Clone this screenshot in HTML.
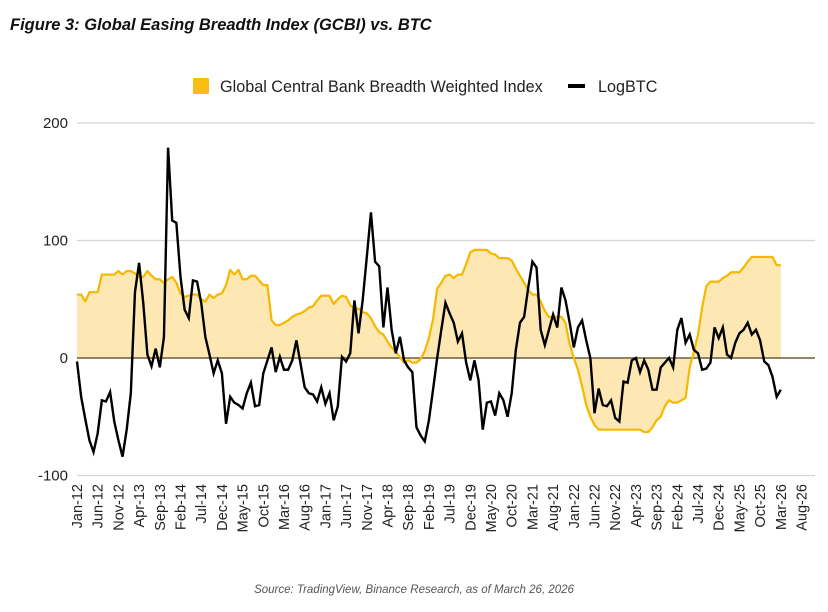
<!DOCTYPE html>
<html><head><meta charset="utf-8"><style>
body{margin:0;background:#fff;width:828px;height:607px;overflow:hidden;font-family:"Liberation Sans",sans-serif}
</style></head><body>
<svg width="828" height="607" xmlns="http://www.w3.org/2000/svg">
<text x="10" y="30" font-size="16.5" font-weight="bold" font-style="italic" fill="#111">Figure 3: Global Easing Breadth Index (GCBI) vs. BTC</text>
<g>
<rect x="193" y="78" width="16" height="16" rx="1" fill="#f9bd13"/>
<text x="220" y="92" font-size="16.2" fill="#222">Global Central Bank Breadth Weighted Index</text>
<line x1="568" y1="86" x2="585" y2="86" stroke="#000" stroke-width="4"/>
<text x="598" y="92" font-size="16.2" fill="#222">LogBTC</text>
</g>
<g id="grid"></g>
<g id="plot"></g>
<g id="xlabels"></g>
<text x="414" y="593" font-size="11.5" font-style="italic" fill="#555" text-anchor="middle">Source: TradingView, Binance Research, as of March 26, 2026</text>
</svg>
<script>
const yTicks=[200,100,0,-100];
const xTickLabels=["Jan-12","Jun-12","Nov-12","Apr-13","Sep-13","Feb-14","Jul-14","Dec-14","May-15","Oct-15","Mar-16","Aug-16","Jan-17","Jun-17","Nov-17","Apr-18","Sep-18","Feb-19","Jul-19","Dec-19","May-20","Oct-20","Mar-21","Aug-21","Jan-22","Jun-22","Nov-22","Apr-23","Sep-23","Feb-24","Jul-24","Dec-24","May-25","Oct-25","Mar-26","Aug-26"];
const gcbi=[54,54,48,56,56,56,71,71,71,71,74,71,74,74,72,69,69,74,70,67,67,64,67,69,64,55,52,53,54,54,50,48,54,51,54,55,62,75,71,75,67,67,70,70,66,62,62,32,28,28,30,32,35,37,38,40,43,44,49,53,53,53,46,50,53,52,45,42,42,39,38,34,27,22,20,14,9,5,1,-4,-2,-4,-4,-1,6,17,33,59,64,70,71,68,71,71,80,90,92,92,92,92,89,88,85,85,85,83,76,70,64,58,54,54,48,40,35,35,35,35,30,12,0,-10,-24,-40,-50,-57,-61,-61,-61,-61,-61,-61,-61,-61,-61,-61,-61,-63,-63,-59,-53,-50,-41,-36,-38,-38,-36,-34,-8,5,20,43,61,65,65,65,68,70,73,73,73,77,82,86,86,86,86,86,86,79,79];
const logBTC=[-3,-33,-52,-70,-80,-64,-36,-37,-29,-54,-70,-84,-61,-30,56,81,47,3,-7,8,-8,18,179,117,115,69,41,34,66,65,47,18,3,-13,-2,-13,-56,-33,-38,-40,-43,-30,-21,-41,-40,-13,-2,9,-12,1,-10,-10,-2,15,-5,-25,-30,-31,-37,-25,-39,-30,-53,-41,1,-3,4,49,21,49,86,124,82,78,26,60,24,4,18,-2,-8,-12,-59,-66,-71,-53,-27,0,24,47,38,30,14,21,-4,-19,-2,-19,-61,-38,-37,-49,-30,-36,-50,-30,7,30,35,60,82,77,24,11,24,37,26,60,49,30,9,26,32,15,0,-47,-26,-40,-41,-36,-51,-54,-20,-21,-2,0,-12,-2,-10,-27,-27,-8,-4,0,-8,24,34,13,20,7,4,-10,-9,-4,26,17,26,3,0,13,21,24,30,20,24,15,-3,-6,-16,-33,-27];
const NS="http://www.w3.org/2000/svg";
const X0=77,PX=4.14,MON0=5;
const xScale=m=>X0+m*PX;
const yScale=v=>358-v*1.175;
function mk(tag,attrs,parent){const e=document.createElementNS(NS,tag);for(const k in attrs)e.setAttribute(k,attrs[k]);parent.appendChild(e);return e;}
const grid=document.getElementById('grid'),plot=document.getElementById('plot'),xl=document.getElementById('xlabels');
yTicks.forEach(t=>{
 if(t!==0){const l=mk('line',{x1:77,x2:815,y1:yScale(t),y2:yScale(t),stroke:'#d4d4d4','stroke-width':1.2},grid);
 
 }
 const tx=mk('text',{x:68,y:yScale(t)+5,'font-size':15,'text-anchor':'end',fill:'#222'},grid);
 tx.textContent=t;
 
 
});
let d='M'+xScale(0)+','+yScale(0);
gcbi.forEach((v,i)=>{d+=' L'+xScale(i)+','+yScale(v);});
d+=' L'+xScale(gcbi.length-1)+','+yScale(0)+' Z';
const area=mk('path',{d:d,fill:'#fde8b4',stroke:'none'},plot);


const zl=mk('line',{x1:77,x2:815,y1:yScale(0),y2:yScale(0),stroke:'#6b5f3a','stroke-width':1.5},plot);


const gl=mk('polyline',{points:gcbi.map((v,i)=>xScale(i)+','+yScale(v)).join(' '),fill:'none',stroke:'#f5b800','stroke-width':2.2,'stroke-linejoin':'round'},plot);


const bl=mk('polyline',{points:logBTC.map((v,i)=>xScale(i)+','+yScale(v)).join(' '),fill:'none',stroke:'#000','stroke-width':2.4,'stroke-linejoin':'miter'},plot);


xTickLabels.forEach((s,i)=>{
 const x=xScale(i*MON0);
 const t=mk('text',{x:0,y:0,'font-size':14.5,'text-anchor':'end',fill:'#222',transform:'translate('+(x+5)+',484) rotate(-90)'},xl);
 t.textContent=s;
 
 
});
</script>
</body></html>
